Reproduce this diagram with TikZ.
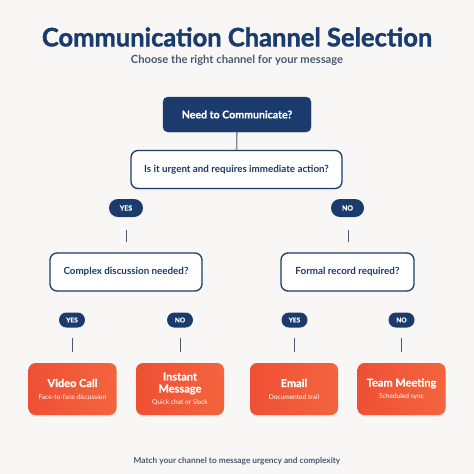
\documentclass[tikz,border=0pt]{standalone}
\usepackage{fontspec}
\setmainfont{Lato}
\newfontfamily\headfont[BoldFeatures={FakeBold=1.5}]{Lato}
\newfontfamily\heavyfont[BoldFeatures={FakeBold=0.8}]{Lato}
\usepackage{xcolor}
\usetikzlibrary{positioning}
\usetikzlibrary{shadows}

\definecolor{navy}{RGB}{27,59,108}
\definecolor{slate}{RGB}{74,88,112}
\definecolor{paper}{RGB}{248,247,245}
\definecolor{flame}{RGB}{239,80,52}
\definecolor{flamelight}{RGB}{243,100,62}

\newcommand{\chanhead}{\heavyfont\bfseries\fontsize{11}{13}\selectfont}
\newcommand{\channote}{\mdseries\fontsize{6.6}{10}\selectfont}

\begin{document}
\begin{tikzpicture}[x=1pt,y=-1pt,
  start node/.style={rectangle,rounded corners=5pt,fill=navy,draw=navy,text=white,
    font=\heavyfont\bfseries\fontsize{10.6}{12}\selectfont,minimum width=148pt,minimum height=35pt},
  ask node/.style={rectangle,rounded corners=7pt,fill=white,draw=navy,line width=1.3pt,
    text=navy,font=\bfseries\fontsize{9.8}{11}\selectfont,minimum height=38pt},
  big pill/.style={rectangle,rounded corners=9pt,fill=navy,text=white,
    font=\heavyfont\bfseries\fontsize{7}{8}\selectfont,minimum width=34pt,minimum height=18pt,inner sep=0pt},
  small pill/.style={rectangle,rounded corners=7.5pt,fill=navy,text=white,
    font=\heavyfont\bfseries\fontsize{6.5}{8}\selectfont,minimum width=26pt,minimum height=15pt,inner sep=0pt},
  end node/.style={rectangle,rounded corners=7pt,left color=flame,right color=flamelight,
    text=white,align=center,minimum width=88pt,minimum height=52pt,inner sep=2pt,
    drop shadow={opacity=0.12,shadow xshift=0pt,shadow yshift=-1.5pt}},
  stub/.style={draw=slate,line width=0.9pt}]

  % page
  \fill[paper] (0,0) rectangle (474,474);
  \useasboundingbox (0,0) rectangle (474,474);

  % titles
  \node[text=navy,font=\headfont\bfseries\fontsize{25.5}{28}\selectfont] (title) at (237,37) {Communication Channel Selection};
  \node[text=slate,font=\bfseries\fontsize{11.2}{13}\selectfont] (sub) at (237,60) {Choose the right channel for your message};

  % questions
  \node[start node] (need) at (237,114.5) {Need to Communicate?};
  \node[ask node,minimum width=211pt,drop shadow={opacity=0.08,shadow xshift=0pt,shadow yshift=-1.5pt}] (urgent) at (236.5,169.5) {Is it urgent and requires immediate action?};
  \node[ask node,minimum width=152pt] (complex) at (126,272) {Complex discussion needed?};
  \node[ask node,minimum width=133pt] (formal) at (347.5,272) {Formal record required?};

  \draw[draw=slate!70,line width=1.4pt] (need) -- (urgent);

  % answers
  \node[big pill] (yes1) at (126,208) {YES};
  \node[big pill,minimum width=33pt] (no1) at (347.5,208) {NO};
  \node[small pill] (yes2) at (72,320) {YES};
  \node[small pill] (no2) at (180,320) {NO};
  \node[small pill] (yes3) at (294.5,320) {YES};
  \node[small pill] (no3) at (401.5,320) {NO};

  % stubs
  \coordinate (s1a) at (126,230); \coordinate (s1b) at (126,242);
  \coordinate (s2a) at (348,230); \coordinate (s2b) at (348,242);
  \coordinate (s3a) at (72,338);  \coordinate (s3b) at (72,352);
  \coordinate (s4a) at (180,338); \coordinate (s4b) at (180,352);
  \coordinate (s5a) at (294.5,338); \coordinate (s5b) at (294.5,352);
  \coordinate (s6a) at (401.5,338); \coordinate (s6b) at (401.5,352);
  \path[stub]
    (s1a) edge (s1b)
    (s2a) edge (s2b)
    (s3a) edge (s3b)
    (s4a) edge (s4b)
    (s5a) edge (s5b)
    (s6a) edge (s6b);

  % channels
  \node[end node] (video) at (72.5,389) {\chanhead Video Call\\\channote Face-to-face discussion};
  \node[end node] (chat) at (180,389) {\chanhead Instant\\\chanhead Message\\\channote Quick chat or Slack};
  \node[end node] (email) at (294,389) {\chanhead Email\\\channote Documented trail};
  \node[end node] (meet) at (401.5,389) {\chanhead Team Meeting\\\channote Scheduled sync};

  % footer
  \node[text=slate,font=\bfseries\fontsize{8.3}{10}\selectfont] (foot) at (237,461) {Match your channel to message urgency and complexity};
\end{tikzpicture}
\end{document}
